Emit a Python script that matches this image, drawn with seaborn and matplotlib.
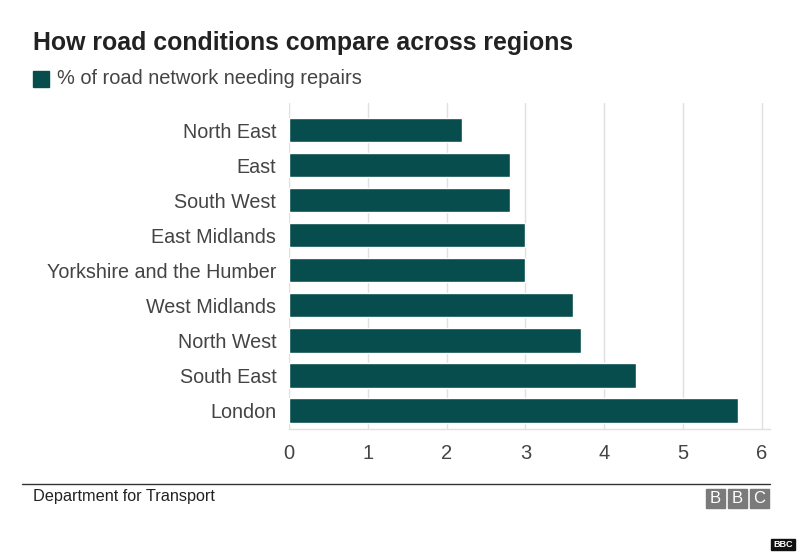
import matplotlib
matplotlib.use('Agg')
import pandas as pd
import seaborn as sns
from matplotlib import pyplot as plt
from matplotlib.patches import Rectangle

regions = ["North East", "East", "South West", "East Midlands",
           "Yorkshire and the Humber", "West Midlands", "North West",
           "South East", "London"]
repairs_pct = [2.2, 2.8, 2.8, 3.0, 3.0, 3.6, 3.7, 4.4, 5.7]
x_ticks = [0, 1, 2, 3, 4, 5, 6]

bar_color = "#074d4d"
grid_color = "#e0e0e0"
text_color = "#444444"

sns.set_style("white")
plt.rcParams['font.family'] = ['Liberation Sans', 'DejaVu Sans']

df = pd.DataFrame({'Region': regions, 'Pct': repairs_pct})

fig = plt.figure(figsize=(8, 5.57), dpi=100)
ax = fig.add_axes([0.361, 0.2298, 0.6015, 0.5852])

sns.barplot(data=df, x='Pct', y='Region', color=bar_color, width=0.71,
            saturation=1, ax=ax)

ax.set_xlim(0, 6.1)
ax.set_ylim(8.54, -0.77)
ax.set_xticks(x_ticks)
ax.set_xticklabels([str(t) for t in x_ticks])
ax.set_xlabel('')
ax.set_ylabel('')
ax.set_axisbelow(True)
ax.grid(axis='x', color=grid_color, linewidth=1)
for s in ['top', 'right', 'left']:
    ax.spines[s].set_visible(False)
ax.spines['bottom'].set_color(grid_color)
ax.spines['bottom'].set_linewidth(1)
ax.tick_params(axis='x', length=0, labelsize=14.5, labelcolor=text_color, pad=11)
ax.tick_params(axis='y', length=0, labelsize=14.2, labelcolor=text_color, pad=9)

# title and legend
fig.text(33 / 800, 1 - 43 / 557, "How road conditions compare across regions",
         fontsize=17.9, fontweight='bold', color='#222222', va='center', ha='left')
fig.patches.append(Rectangle((33 / 800, 1 - 87 / 557), 16 / 800, 16 / 557,
                             transform=fig.transFigure, color=bar_color))
fig.text(57 / 800, 1 - 79 / 557, "% of road network needing repairs",
         fontsize=14.4, color=text_color, va='center', ha='left')

# footer
fig.add_artist(plt.Line2D([22 / 800, 770 / 800], [1 - 484 / 557, 1 - 484 / 557],
                          transform=fig.transFigure, color='#333333', linewidth=1))
fig.text(33 / 800, 1 - 497 / 557, "Department for Transport",
         fontsize=11.7, color='#222222', va='center', ha='left')
for i, letter in enumerate("BBC"):
    x0 = (706 + i * 22) / 800
    fig.patches.append(Rectangle((x0, 1 - 508 / 557), 19 / 800, 19 / 557,
                                 transform=fig.transFigure, color='#7a7a7a'))
    fig.text(x0 + 9.5 / 800, 1 - 498.5 / 557, letter, fontsize=12,
             color='white', ha='center', va='center')
fig.patches.append(Rectangle((771 / 800, 1 - 550 / 557), 24 / 800, 11 / 557,
                             transform=fig.transFigure, color='#111111'))
fig.text(783 / 800, 1 - 544.5 / 557, "BBC", fontsize=6.5, fontweight='bold',
         color='white', ha='center', va='center')

fig.savefig('out.png', dpi=100)
plt.close(fig)
